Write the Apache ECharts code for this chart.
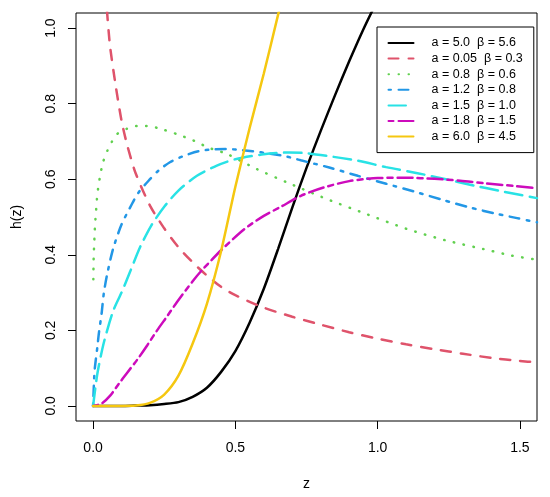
<!DOCTYPE html>
<html>
<head>
<meta charset="utf-8">
<script src="https://cdn.jsdelivr.net/npm/echarts@6/dist/echarts.min.js"></script>
<style>
  html, body { margin: 0; padding: 0; background: #fff; }
  #chart { width: 550px; height: 497px; }
</style>
</head>
<body>
<div id="chart"></div>
<script>
// hazard curves h(z), points as [z, h]
const hBlack = [[0, 0], [0.1, 0], [0.15, 0.001], [0.2, 0.002], [0.25, 0.005], [0.3, 0.01], [0.35, 0.024], [0.4, 0.048], [0.45, 0.09], [0.5, 0.145], [0.55, 0.22], [0.6, 0.31], [0.65, 0.415], [0.7, 0.525], [0.75, 0.63], [0.8, 0.728], [0.85, 0.822], [0.9, 0.912], [0.95, 0.997], [1.0, 1.075]]
const hRed = [[0.045, 1.1], [0.05, 1.035], [0.06, 0.95], [0.08, 0.845], [0.1, 0.755], [0.12, 0.69], [0.15, 0.615], [0.2, 0.53], [0.25, 0.47], [0.3, 0.42], [0.35, 0.38], [0.4, 0.345], [0.45, 0.315], [0.5, 0.293], [0.6, 0.26], [0.7, 0.236], [0.8, 0.215], [0.9, 0.195], [1.0, 0.178], [1.1, 0.163], [1.2, 0.15], [1.3, 0.138], [1.4, 0.127], [1.5, 0.119], [1.56, 0.115]]
const hGreen = [[0.001, 0.335], [0.002, 0.39], [0.004, 0.43], [0.007, 0.48], [0.01, 0.51], [0.015, 0.56], [0.025, 0.61], [0.035, 0.645], [0.05, 0.675], [0.065, 0.698], [0.085, 0.72], [0.12, 0.734], [0.155, 0.741], [0.19, 0.741], [0.23, 0.735], [0.3, 0.718], [0.37, 0.697], [0.4, 0.685], [0.47, 0.667], [0.575, 0.627], [0.68, 0.592], [0.82, 0.548], [0.96, 0.508], [1.1, 0.469], [1.24, 0.438], [1.39, 0.412], [1.47, 0.398], [1.56, 0.387]]
const hBlue = [[0, 0], [0.005, 0.09], [0.01, 0.125], [0.015, 0.155], [0.02, 0.19], [0.03, 0.245], [0.038, 0.3], [0.05, 0.35], [0.07, 0.415], [0.1, 0.48], [0.137, 0.535], [0.16, 0.565], [0.195, 0.596], [0.23, 0.623], [0.27, 0.645], [0.32, 0.662], [0.37, 0.674], [0.42, 0.679], [0.465, 0.68], [0.51, 0.678], [0.56, 0.674], [0.62, 0.668], [0.68, 0.66], [0.73, 0.65], [0.83, 0.631], [0.93, 0.609], [1.03, 0.588], [1.13, 0.567], [1.23, 0.545], [1.32, 0.526], [1.42, 0.508], [1.49, 0.497], [1.56, 0.486]]
const hCyan = [[0, 0], [0.015, 0.085], [0.037, 0.165], [0.07, 0.25], [0.1, 0.3], [0.13, 0.355], [0.165, 0.42], [0.205, 0.478], [0.25, 0.527], [0.3, 0.57], [0.365, 0.609], [0.435, 0.636], [0.5, 0.653], [0.6, 0.666], [0.69, 0.671], [0.75, 0.669], [0.82, 0.662], [0.93, 0.649], [1.03, 0.632], [1.14, 0.616], [1.24, 0.6], [1.34, 0.583], [1.43, 0.569], [1.56, 0.55]]
const hMagenta = [[0, 0], [0.03, 0.006], [0.06, 0.027], [0.09, 0.058], [0.12, 0.088], [0.155, 0.122], [0.19, 0.16], [0.225, 0.2], [0.26, 0.237], [0.295, 0.275], [0.35, 0.33], [0.38, 0.357], [0.45, 0.412], [0.53, 0.467], [0.6, 0.503], [0.66, 0.527], [0.73, 0.556], [0.81, 0.578], [0.9, 0.595], [1.0, 0.603], [1.1, 0.604], [1.2, 0.601], [1.29, 0.596], [1.38, 0.589], [1.48, 0.582], [1.56, 0.576]]
const hYellow = [[0, 0], [0.1, 0], [0.15, 0.001], [0.2, 0.008], [0.25, 0.03], [0.3, 0.08], [0.35, 0.165], [0.4, 0.27], [0.45, 0.41], [0.5, 0.58], [0.55, 0.735], [0.6, 0.88], [0.65, 1.035], [0.7, 1.19]]

const names = [
  "a = 5.0  β = 5.6",
  "a = 0.05  β = 0.3",
  "a = 0.8  β = 0.6",
  "a = 1.2  β = 0.8",
  "a = 1.5  β = 1.0",
  "a = 1.8  β = 1.5",
  "a = 6.0  β = 4.5"
]
const xTicks = [0, 0.5, 1.0, 1.5]
const yTicks = [0, 0.2, 0.4, 0.6, 0.8, 1.0]

const font = "\"Liberation Sans\", Arial, Helvetica, sans-serif"
const chart = echarts.init(document.getElementById("chart"), null, { renderer: "canvas" })

// R lty patterns scaled by lwd 2.5
const curve = (name, data, color, dash) => ({
  name: name,
  type: "line",
  data: data,
  symbol: "none",
  showSymbol: false,
  smooth: 0.25,
  clip: true,
  itemStyle: { color: color },
  lineStyle: { color: color, width: 2.5, type: dash, cap: "round" }
})

const option = {
  animation: false,
  backgroundColor: "#fff",
  textStyle: { fontFamily: font, color: "#000" },
  grid: {
    left: 76,
    right: 13,
    top: 13,
    bottom: 76,
    show: true,
    borderColor: "#000",
    borderWidth: 1,
    containLabel: false,
    outerBoundsMode: "none"
  },
  legend: {
    orient: "vertical",
    left: 377,
    top: 27,
    selectedMode: false,
    backgroundColor: "#fff",
    borderColor: "#000",
    borderWidth: 1,
    borderRadius: 0,
    padding: [9, 11, 9, 10.5],
    itemWidth: 25,
    itemHeight: 14,
    itemGap: 1.6,
    itemStyle: { opacity: 0, borderWidth: 0 },
    textStyle: { fontFamily: font, fontSize: 12.5, color: "#000", padding: [0, 0, 0, 13], lineHeight: 14 },
    data: names
  },
  xAxis: {
    type: "value",
    min: -0.06,
    max: 1.56,
    name: "z",
    nameLocation: "middle",
    nameGap: 56,
    nameTextStyle: { fontFamily: font, fontSize: 14, color: "#000" },
    axisLine: { show: false, onZero: false },
    axisTick: { show: true, length: 8, customValues: xTicks, lineStyle: { color: "#000", width: 1 } },
    axisLabel: {
      customValues: xTicks,
      margin: 20,
      fontFamily: font,
      fontSize: 14,
      color: "#000",
      formatter: v => v.toFixed(1)
    },
    splitLine: { show: false }
  },
  yAxis: {
    type: "value",
    min: -0.04,
    max: 1.04,
    name: "h(z)",
    nameLocation: "middle",
    nameRotate: 90,
    nameGap: 52,
    nameTextStyle: { fontFamily: font, fontSize: 14, color: "#000" },
    axisLine: { show: false, onZero: false },
    axisTick: { show: true, length: 8, customValues: yTicks, lineStyle: { color: "#000", width: 1 } },
    axisLabel: {
      customValues: yTicks,
      rotate: 90,
      margin: 18,
      fontFamily: font,
      fontSize: 14,
      color: "#000",
      formatter: v => v.toFixed(1)
    },
    splitLine: { show: false }
  },
  series: [
    curve(names[0], hBlack, "#000000", "solid"),
    curve(names[1], hRed, "#DF536B", [10, 10]),
    curve(names[2], hGreen, "#61D04F", [0.5, 9.5]),
    curve(names[3], hBlue, "#2297E6", [2.5, 7.5, 10, 7.5]),
    curve(names[4], hCyan, "#28E2E5", [17.5, 7.5]),
    curve(names[5], hMagenta, "#CD0BBC", [5, 5, 15, 5]),
    curve(names[6], hYellow, "#F5C710", "solid")
  ]
}
chart.setOption(option)
</script>
</body>
</html>
